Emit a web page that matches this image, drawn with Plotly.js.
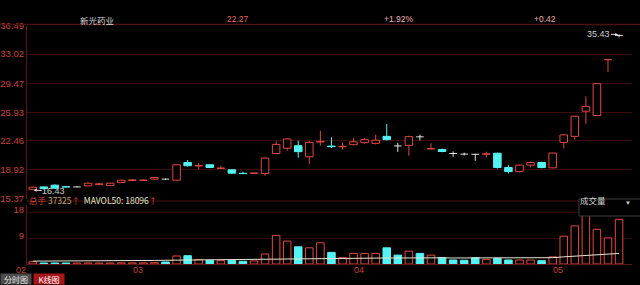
<!DOCTYPE html>
<html><head><meta charset="utf-8">
<script src="https://cdn.plot.ly/plotly-3.0.1.min.js"></script>
<style>html,body{margin:0;padding:0;background:#000;}#chart{width:640px;height:285px;}</style>
</head><body><div id="chart"></div>
<script>
// ---------- data ----------
const stockName = "新光药业";
const headerValues = ["22.27", "+1.92%", "+0.42"];
const months = ["02","02","02","02","02","02","02","02","02","02",
  "03","03","03","03","03","03","03","03","03","03","03","03","03","03","03","03","03","03","03","03",
  "04","04","04","04","04","04","04","04","04","04","04","04","04","04","04","04","04","04",
  "05","05","05","05","05","05"];
const open  = [16.48,16.82,17.03,16.84,16.82,16.95,17.10,16.98,17.35,17.60,
  17.62,17.77,17.77,17.64,19.80,19.38,19.52,19.08,18.91,18.48,18.46,18.45,20.90,21.54,21.85,20.50,22.30,21.80,21.72,21.97,
  22.22,22.13,22.99,21.82,21.89,22.93,21.45,21.38,20.90,20.82,20.80,20.80,20.93,19.19,18.69,19.48,19.80,19.15,
  22.25,22.99,26.06,25.53,32.34,35.30];
const high  = [16.85,16.90,17.15,16.90,16.88,17.35,17.30,17.32,17.70,17.80,
  17.75,18.02,17.85,19.56,20.10,19.73,19.60,19.40,19.00,18.70,18.60,20.40,22.38,22.75,22.46,22.46,23.69,22.87,22.20,22.80,
  22.80,23.17,24.49,22.20,23.07,23.20,22.15,21.50,21.15,21.00,20.85,21.10,21.00,19.48,19.55,19.90,19.90,21.00,
  23.25,25.50,27.86,29.45,32.36,35.43];
const low   = [16.43,16.55,16.60,16.75,16.76,16.90,17.05,16.95,17.30,17.50,
  17.58,17.70,17.70,17.60,19.30,18.99,19.10,19.00,18.40,18.40,18.40,18.17,20.85,21.24,20.38,19.61,21.85,21.57,21.40,21.90,
  22.10,22.00,22.50,21.09,20.62,22.50,21.40,21.05,20.50,20.65,20.01,20.40,19.05,18.45,18.60,19.19,19.10,19.10,
  21.52,22.60,24.51,25.50,30.84,35.07];
const close = [16.78,16.61,16.66,16.80,16.82,17.27,17.20,17.27,17.64,17.68,
  17.66,17.96,17.77,19.52,19.40,19.42,19.19,19.12,18.50,18.44,18.52,20.34,22.01,22.67,21.12,22.25,22.38,21.73,21.78,22.32,
  22.59,22.52,22.59,21.82,22.95,22.93,21.50,21.14,20.90,20.82,20.80,20.86,19.19,18.69,19.48,19.80,19.18,20.95,
  23.17,25.45,26.64,29.42,32.36,35.30];
const volume = [0.8,0.35,0.35,0.35,0.35,0.35,0.35,0.35,0.4,0.4,
  0.4,0.45,0.7,2.8,2.9,1.6,1.3,1.15,1.3,0.95,1.05,3.5,10.0,8.0,6.0,5.65,7.4,4.05,2.2,3.7,
  3.7,3.7,5.65,3.1,4.5,3.7,3.1,2.2,1.4,1.3,2.2,1.6,2.0,1.4,1.4,1.4,1.15,2.5,
  9.7,13.3,17.3,12.1,9.1,15.6];
const mavol50 = [1.0,1.0,1.05,1.05,1.1,1.1,1.15,1.15,1.2,1.2,
  1.25,1.25,1.3,1.35,1.4,1.4,1.45,1.45,1.5,1.5,1.55,1.6,1.7,1.8,1.85,1.9,2.0,2.0,2.0,2.05,
  2.05,2.1,2.1,2.1,2.15,2.15,2.15,2.15,2.1,2.1,2.1,2.1,2.1,2.1,2.1,2.1,2.1,2.2,
  2.5,2.7,3.0,3.2,3.4,3.7];
const priceTicks = [15.37,18.92,22.46,25.93,29.47,33.02,36.49];
const volumeTicks = [9, 18];
const volumeLabel = {name: "总手", value: "37325", maName: "MAVOL50:", maValue: "18096"};
const indicatorName = "成交量";
const tabLabels = ["分时图", "K线图"];

// ---------- helpers ----------
const L = 27, R = 632, T = 25, B = 264;
const fx = p => (p - L) / (R - L);
const fy = p => (B - p) / (B - T);
const RED = '#e0483e', CYAN = '#54f2f2', WHITE = '#e4e4e4';
const GRID = '#3a0d0d', AXIS = '#5c1616', LABEL = '#c8403a';
const W = 0.68;
const n = close.length;
const idx = Array.from({length: n}, (_, i) => i);
const up = idx.filter(i => close[i] > open[i]);
const dn = idx.filter(i => close[i] < open[i]);
const dj = idx.filter(i => close[i] === open[i]);

function wicks(list) {
  const xs = [], ys = [];
  list.forEach(i => {
    const top = Math.max(open[i], close[i]), bot = Math.min(open[i], close[i]);
    xs.push(i, i, null, i, i, null);
    ys.push(top, high[i], null, low[i], bot, null);
  });
  return {xs, ys};
}
const wu = wicks(up), wd = wicks(dn);
const djx = [], djy = [];
dj.forEach(i => {
  djx.push(i - W / 2, i + W / 2, null, i, i, null);
  djy.push(open[i], open[i], null, low[i], high[i], null);
});

const volUp = idx.map(i => close[i] > open[i] ||
  (close[i] === open[i] && (i === 0 || close[i] >= close[i - 1])));

const traces = [
  {type: 'scatter', mode: 'lines', x: wu.xs, y: wu.ys, line: {color: RED, width: 1}, xaxis: 'x', yaxis: 'y', hoverinfo: 'skip'},
  {type: 'scatter', mode: 'lines', x: wd.xs, y: wd.ys, line: {color: CYAN, width: 1}, xaxis: 'x', yaxis: 'y', hoverinfo: 'skip'},
  {type: 'bar', x: up, base: up.map(i => open[i]), y: up.map(i => close[i] - open[i]), width: W,
   marker: {color: '#000', line: {color: RED, width: 1}}, xaxis: 'x', yaxis: 'y'},
  {type: 'bar', x: dn, base: dn.map(i => close[i]), y: dn.map(i => open[i] - close[i]), width: W,
   marker: {color: CYAN, line: {color: CYAN, width: 1}}, xaxis: 'x', yaxis: 'y'},
  {type: 'scatter', mode: 'lines', x: djx, y: djy, line: {color: WHITE, width: 1}, xaxis: 'x', yaxis: 'y', hoverinfo: 'skip'},
  {type: 'bar', x: idx, y: volume, width: W,
   marker: {color: idx.map(i => volUp[i] ? '#000' : CYAN), line: {color: idx.map(i => volUp[i] ? RED : CYAN), width: 1}},
   xaxis: 'x2', yaxis: 'y2'},
  {type: 'scatter', mode: 'lines', x: idx, y: mavol50, line: {color: '#e8e6d2', width: 1}, xaxis: 'x2', yaxis: 'y2'}
];

// month ticks
const mTickVals = [], mTickText = [];
months.forEach((m, i) => {
  if (i === 0 || m !== months[i - 1]) { mTickVals.push(i - 0.5); mTickText.push(m); }
});

const iMin = low.indexOf(Math.min(...low));
const iMax = high.indexOf(Math.max(...high));
const xr = [-0.52, 54.17];
const FONT = '"Liberation Sans", Arial, sans-serif';
const CJK = '"Noto Sans CJK SC", sans-serif';

const monthAnnotations = mTickVals.map((v, k) => ({
  xref: 'x2', yref: 'paper', x: v, y: fy(269.5), yanchor: 'middle', text: mTickText[k], showarrow: false,
  xshift: k === 0 ? -6 : 0, font: {family: FONT, size: 9, color: LABEL}
}));

const layout = {
  width: 640, height: 285,
  margin: {l: L, r: 640 - R, t: T, b: 285 - B, pad: 0},
  paper_bgcolor: '#000', plot_bgcolor: '#000',
  showlegend: false, barmode: 'overlay', hovermode: false,
  font: {family: FONT, size: 9, color: LABEL},
  xaxis: {domain: [0, 1], range: xr, anchor: 'y', showticklabels: false, showgrid: false, zeroline: false, showline: false, fixedrange: true},
  yaxis: {domain: [fy(198.8), fy(25.7)], range: [15.37, 36.49], tickvals: priceTicks, ticktext: priceTicks.map(v => v.toFixed(2)),
    tickfont: {color: LABEL, size: 9.5, family: FONT}, gridcolor: GRID, gridwidth: 1, zeroline: false,
    showline: true, linecolor: AXIS, ticks: '', fixedrange: true},
  xaxis2: {domain: [0, 1], range: xr, anchor: 'y2', tickvals: mTickVals, showticklabels: false, showgrid: false, zeroline: false,
    showline: true, linecolor: AXIS, ticks: '', fixedrange: true},
  yaxis2: {domain: [0, fy(205.3)], range: [0, 20.5], tickvals: volumeTicks, ticktext: volumeTicks.map(String),
    tickfont: {color: LABEL, size: 9.5, family: FONT}, gridcolor: '#2c0a0a', zeroline: false,
    showline: true, linecolor: AXIS, ticks: '', ticklabelshift: -3, fixedrange: true},
  shapes: [
    {type: 'line', xref: 'paper', yref: 'paper', x0: fx(0), x1: fx(640), y0: fy(24.5), y1: fy(24.5), line: {color: '#4a1212', width: 1.5}},
    {type: 'line', xref: 'paper', yref: 'paper', x0: fx(27), x1: fx(640), y0: fy(201), y1: fy(201), line: {color: '#4a1212', width: 1}},
    {type: 'rect', xref: 'paper', yref: 'paper', x0: fx(579), x1: fx(641), y0: fy(216), y1: fy(199), line: {color: '#3c3c3c', width: 1}, fillcolor: '#000'}
  ],
  annotations: [
    {xref: 'paper', yref: 'paper', x: fx(78), y: fy(12.3), text: stockName, showarrow: false, font: {family: CJK, size: 8.5, color: '#d4d4d4'}},
    {xref: 'paper', yref: 'paper', x: fx(238), y: fy(12.3), text: headerValues[0], showarrow: false, font: {family: FONT, size: 8.5, color: '#e06060'}},
    {xref: 'paper', yref: 'paper', x: fx(399), y: fy(12.3), text: headerValues[1], showarrow: false, font: {family: FONT, size: 8.5, color: '#e8b0b0'}},
    {xref: 'paper', yref: 'paper', x: fx(557.5), y: fy(12.3), text: headerValues[2], showarrow: false, font: {family: FONT, size: 8.5, color: '#e8a8a8'}},
    {xref: 'x', yref: 'y', x: iMin, y: low[iMin], text: low[iMin].toFixed(2), showarrow: true, ax: 21, ay: 1,
     arrowhead: 2, arrowsize: 0.6, arrowwidth: 1, arrowcolor: '#dcdcdc', standoff: 1, borderpad: 0, font: {family: FONT, size: 9, color: '#cfcfcf'}},
    {xref: 'x', yref: 'y', x: iMax, y: high[iMax], text: high[iMax].toFixed(2), showarrow: true, ax: -21, ay: 0,
     arrowhead: 2, arrowsize: 0.6, arrowwidth: 1, arrowcolor: '#dcdcdc', standoff: 1, font: {family: FONT, size: 9, color: '#cfcfcf'}},
    {xref: 'paper', yref: 'paper', x: fx(27), y: fy(208), xanchor: 'left', showarrow: false,
     text: `<span style="color:#d8403a">${volumeLabel.name}</span> <span style="color:#caa878">${volumeLabel.value}</span><span style="color:#d8403a">↑</span>  <span style="color:#e8e6c8">${volumeLabel.maName} ${volumeLabel.maValue}</span><span style="color:#d8403a">↑</span>`,
     font: {family: CJK, size: 8.5, color: '#e8e6c8'}},
    {xref: 'paper', yref: 'paper', x: fx(608), y: fy(207.5), text: indicatorName, showarrow: false, font: {family: CJK, size: 8.5, color: '#cfcfcf'}},
    {xref: 'paper', yref: 'paper', x: fx(633), y: fy(207.5), text: '▼', showarrow: false, font: {family: FONT, size: 6, color: '#cfcfcf'}},
    {xref: 'paper', yref: 'paper', x: fx(0), y: fy(285), xanchor: 'left', yanchor: 'bottom', text: tabLabels[0], showarrow: false,
     bgcolor: '#4c4c4c', width: 30, height: 10, borderpad: 0, font: {family: CJK, size: 8, color: '#e6e6e6'}},
    {xref: 'paper', yref: 'paper', x: fx(33), y: fy(285), xanchor: 'left', yanchor: 'bottom', text: tabLabels[1], showarrow: false,
     bgcolor: '#a8161a', width: 30, height: 10, borderpad: 0, font: {family: CJK, size: 8, color: '#ffffff'}}
  ].concat(monthAnnotations)
};

Plotly.newPlot('chart', traces, layout, {displayModeBar: false, staticPlot: true});
</script>
</body></html>
